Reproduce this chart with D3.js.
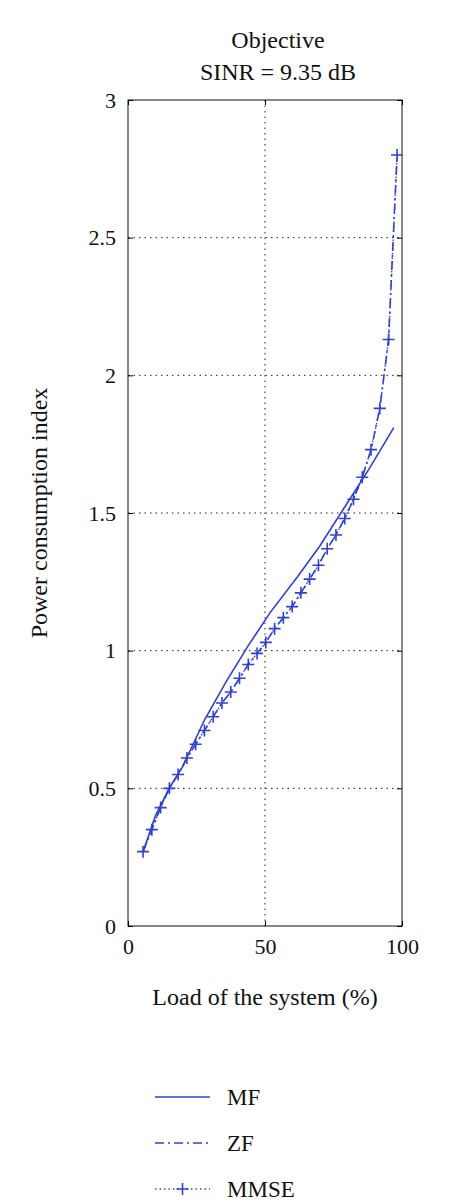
<!DOCTYPE html>
<html><head><meta charset="utf-8">
<script src="https://cdn.jsdelivr.net/npm/d3@7"></script>
<style>body{margin:0;background:#fff}text{font-family:"Liberation Serif",serif;fill:#111}</style>
</head><body><svg id="c" width="452" height="1202"></svg>
<script>
var loads = [5.5,8.7,11.9,15.1,18.3,21.5,24.7,27.9,31.1,34.3,37.5,40.7,43.9,47.1,50.3,53.5,56.7,59.9,63.1,66.3,69.5,72.7,75.9,79.1,82.3,85.5,88.7,91.9,95.1,98.2];
var mmse = [0.27,0.35,0.43,0.50,0.55,0.61,0.66,0.71,0.76,0.81,0.85,0.90,0.95,0.99,1.03,1.08,1.12,1.16,1.21,1.26,1.31,1.37,1.42,1.48,1.55,1.63,1.73,1.88,2.13,2.80];
var zf = [0.27,0.35,0.43,0.50,0.55,0.61,0.66,0.71,0.76,0.81,0.85,0.90,0.95,0.99,1.03,1.08,1.12,1.16,1.21,1.26,1.31,1.37,1.42,1.48,1.55,1.63,1.73,1.88,2.13,2.80];
var mfLoads = [5.5,10,15,20,28,36,44,52,62,70,79,88,97];
var mf = [0.27,0.40,0.50,0.58,0.75,0.89,1.02,1.14,1.27,1.38,1.52,1.66,1.81];
var xTicks = [0,50,100], yTicks = [0,0.5,1,1.5,2,2.5,3];
var legendItems = ["MF","ZF","MMSE"];

var svg = d3.select("#c"), blue = "#3040d0";
var x = d3.scaleLinear().domain([0,100]).range([128,402]);
var y = d3.scaleLinear().domain([0,3]).range([926,100]);
var g = svg.append("g");

g.selectAll(".vg").data([50]).enter().append("line").attr("x1",x).attr("x2",x).attr("y1",100).attr("y2",926)
  .attr("stroke","#222").attr("stroke-dasharray","1.5,4");
g.selectAll(".hg").data(yTicks.slice(1,-1)).enter().append("line").attr("y1",y).attr("y2",y).attr("x1",128).attr("x2",402)
  .attr("stroke","#222").attr("stroke-dasharray","1.5,4");
g.append("rect").attr("x",128).attr("y",100).attr("width",274).attr("height",826).attr("fill","none").attr("stroke","#111");

function fontify(a){a.select(".domain").remove();a.selectAll("text").attr("font-size",22).style("font-family","Liberation Serif");}
g.append("g").attr("transform","translate(0,926)").call(d3.axisBottom(x).tickValues(xTicks).tickSize(-5).tickPadding(12)).call(fontify);
g.append("g").attr("transform","translate(128,0)").call(d3.axisLeft(y).tickValues(yTicks).tickSize(-5).tickPadding(12).tickFormat(d3.format(""))).call(fontify);
g.append("g").attr("transform","translate(402,0)").call(d3.axisLeft(y).tickValues(yTicks).tickSize(5).tickFormat("")).call(fontify);
g.append("g").attr("transform","translate(0,100)").call(d3.axisBottom(x).tickValues(xTicks).tickSize(5).tickFormat("")).call(fontify);

var line = d3.line().x(function(d){return x(d[0]);}).y(function(d){return y(d[1]);});
var mfData = mfLoads.map(function(v,i){return [v,mf[i]];});
var zfData = loads.map(function(v,i){return [v,zf[i]];});
var mmData = loads.map(function(v,i){return [v,mmse[i]];});

g.append("path").datum(mfData).attr("d",line).attr("fill","none").attr("stroke",blue).attr("stroke-width",1.6);
g.append("path").datum(zfData).attr("d",line).attr("fill","none").attr("stroke",blue).attr("stroke-width",1.6).attr("stroke-dasharray","9,4,2,4");
g.append("path").datum(mmData).attr("d",line).attr("fill","none").attr("stroke",blue).attr("stroke-width",1.4).attr("stroke-dasharray","1.5,3");
g.selectAll(".pl").data(mmData).enter().append("path")
  .attr("d",function(d){var px=x(d[0]),py=y(d[1]);return "M"+(px-6)+","+py+"H"+(px+6)+"M"+px+","+(py-6)+"V"+(py+6);})
  .attr("stroke",blue).attr("stroke-width",1.6);

svg.append("text").attr("x",278).attr("y",48).attr("text-anchor","middle").attr("font-size",24).text("Objective");
svg.append("text").attr("x",278).attr("y",80).attr("text-anchor","middle").attr("font-size",24).text("SINR = 9.35 dB");
svg.append("text").attr("x",265).attr("y",1005).attr("text-anchor","middle").attr("font-size",24).text("Load of the system (%)");
svg.append("text").attr("transform","translate(47,513) rotate(-90)").attr("text-anchor","middle").attr("font-size",24).text("Power consumption index");

var lg = svg.append("g").selectAll("g").data(legendItems).enter().append("g")
  .attr("transform",function(d,i){return "translate(0,"+(1097+i*46)+")";});
lg.append("line").attr("x1",155).attr("x2",210).attr("stroke",blue).attr("stroke-width",1.6)
  .attr("stroke-dasharray",function(d,i){return ["none","9,4,2,4","1.5,3"][i];});
lg.filter(function(d){return d==="MMSE";}).append("path").attr("d","M176.5,0H188.5M182.5,-6V6").attr("stroke",blue).attr("stroke-width",1.6);
lg.append("text").attr("x",227).attr("y",8).attr("font-size",23).text(function(d){return d;});
</script></body></html>
